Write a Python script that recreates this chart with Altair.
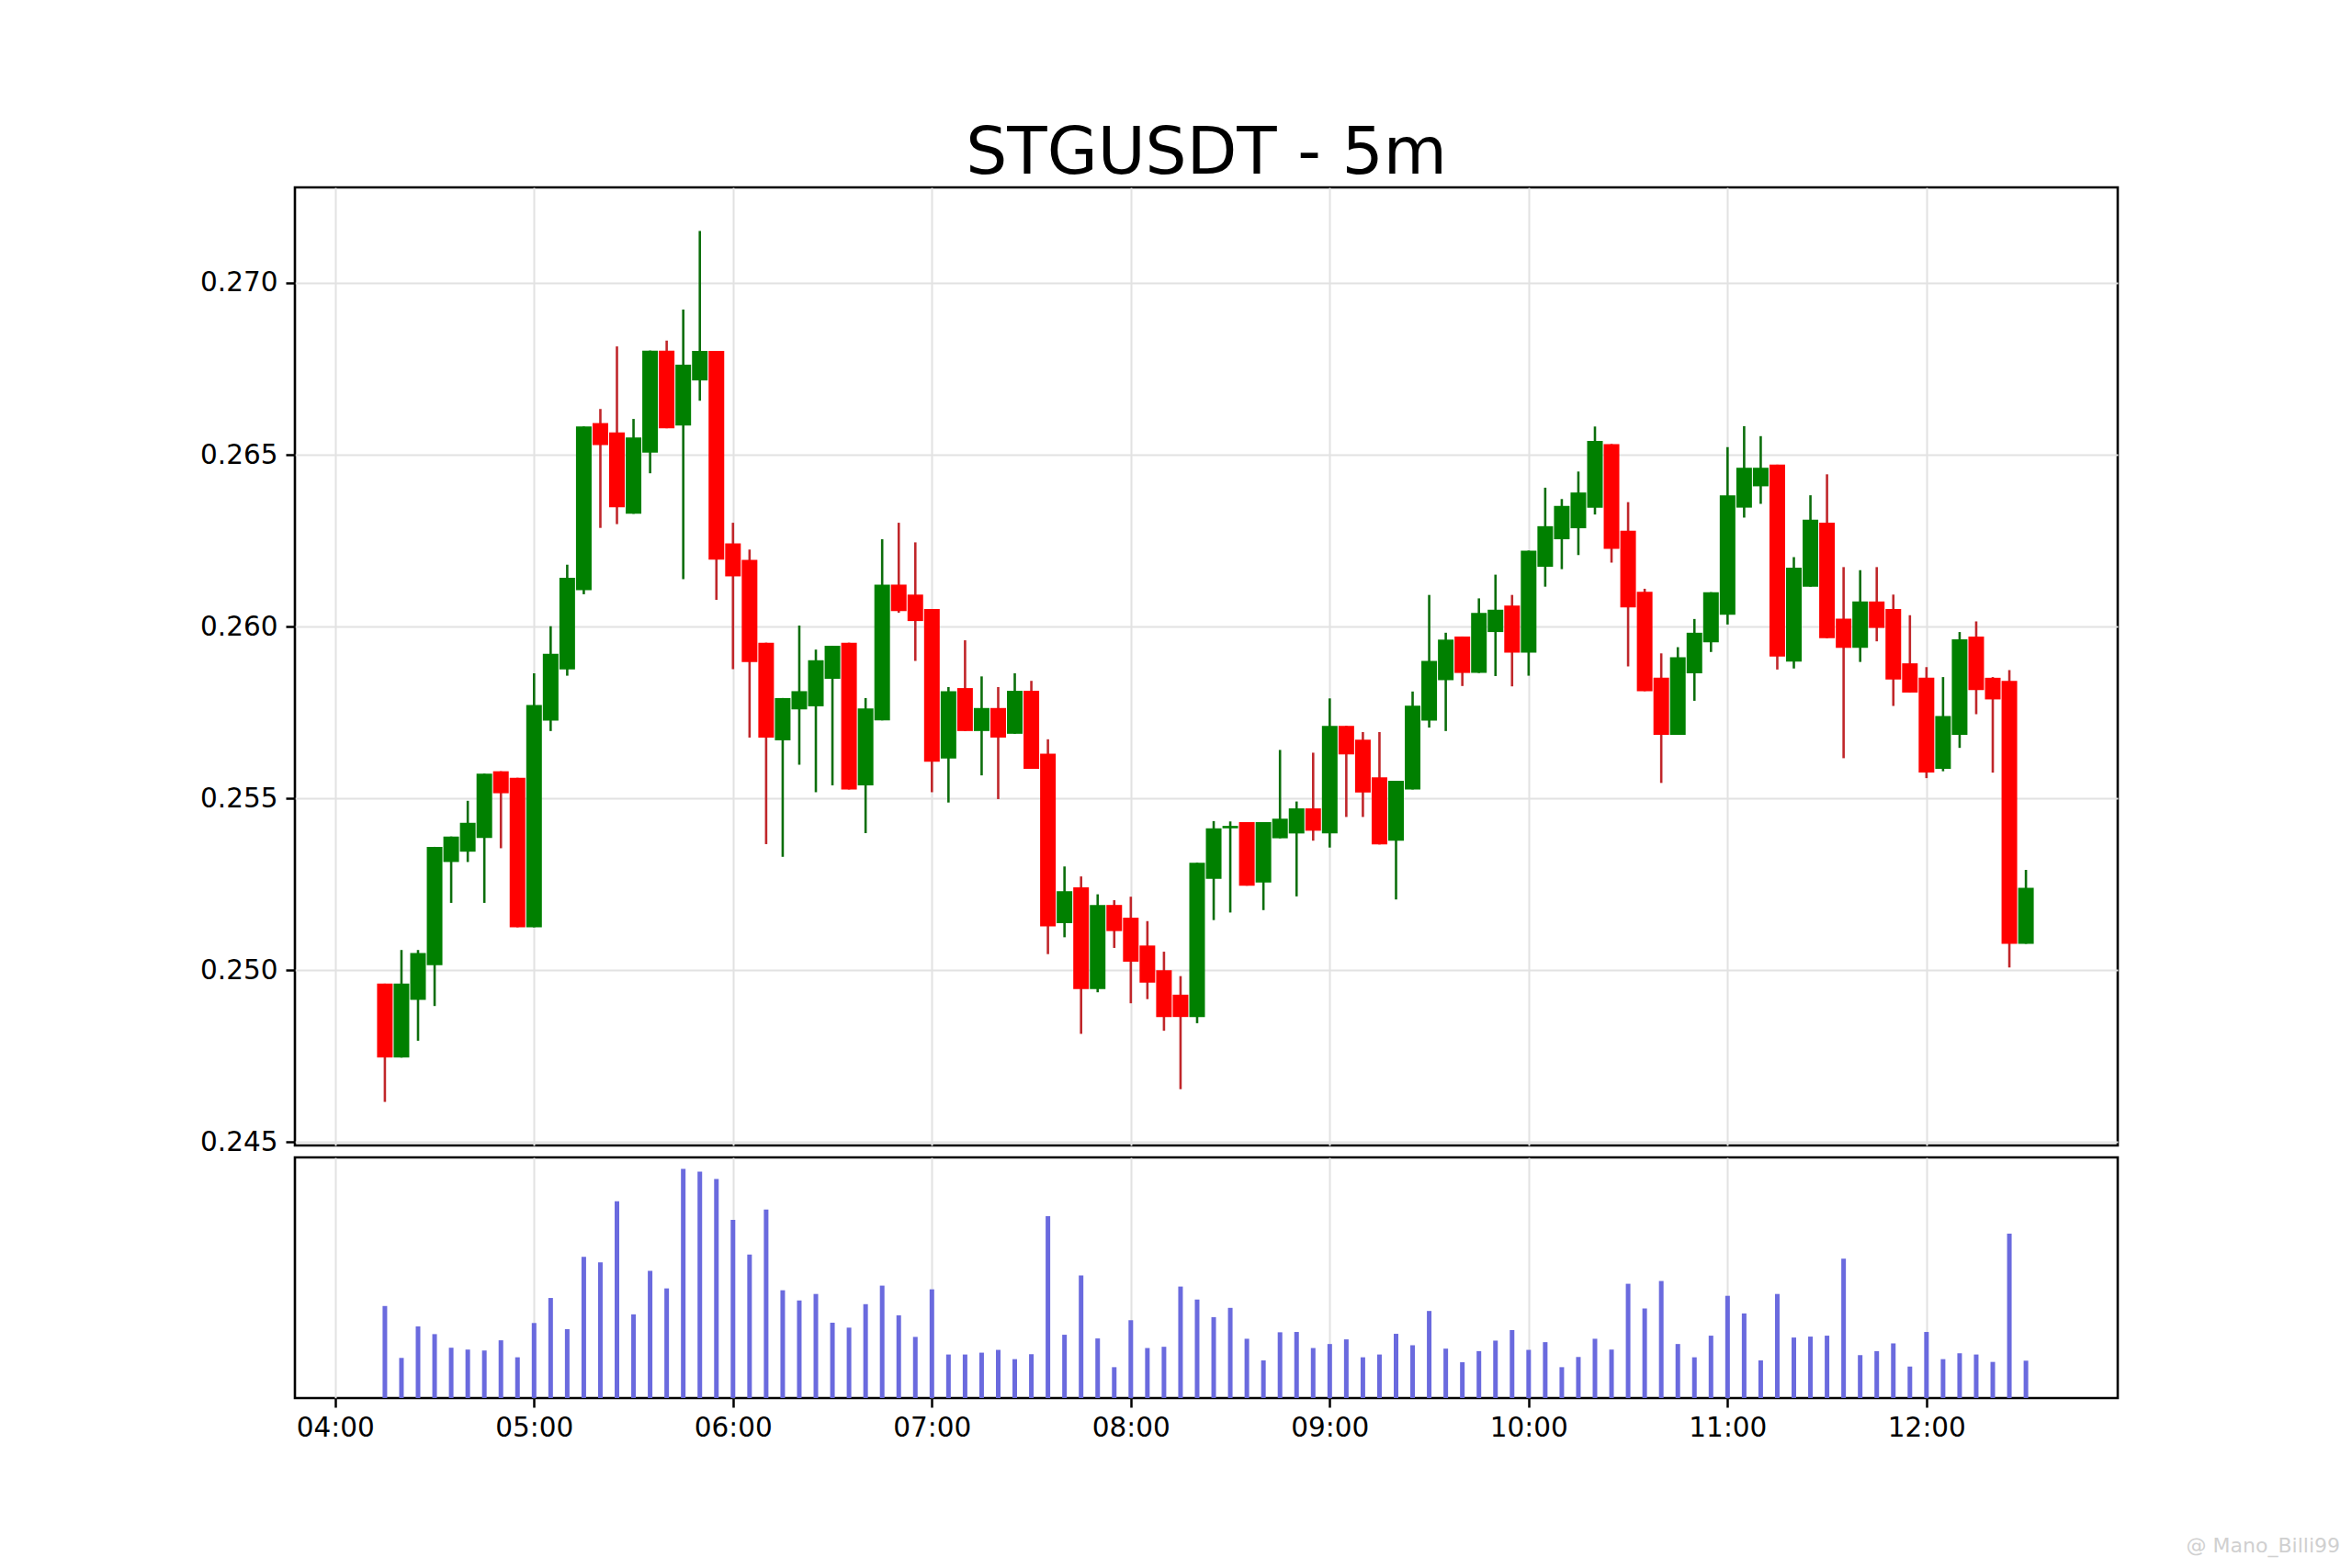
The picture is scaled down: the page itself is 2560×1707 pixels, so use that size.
import altair as alt
import pandas as pd

# ---------------- data ----------------
times = [
    "04:15", "04:20", "04:25", "04:30", "04:35", "04:40", "04:45", "04:50", "04:55",
    "05:00", "05:05", "05:10", "05:15", "05:20", "05:25", "05:30", "05:35", "05:40", "05:45", "05:50", "05:55",
    "06:00", "06:05", "06:10", "06:15", "06:20", "06:25", "06:30", "06:35", "06:40", "06:45", "06:50", "06:55",
    "07:00", "07:05", "07:10", "07:15", "07:20", "07:25", "07:30", "07:35", "07:40", "07:45", "07:50", "07:55",
    "08:00", "08:05", "08:10", "08:15", "08:20", "08:25", "08:30", "08:35", "08:40", "08:45", "08:50", "08:55",
    "09:00", "09:05", "09:10", "09:15", "09:20", "09:25", "09:30", "09:35", "09:40", "09:45", "09:50", "09:55",
    "10:00", "10:05", "10:10", "10:15", "10:20", "10:25", "10:30", "10:35", "10:40", "10:45", "10:50", "10:55",
    "11:00", "11:05", "11:10", "11:15", "11:20", "11:25", "11:30", "11:35", "11:40", "11:45", "11:50", "11:55",
    "12:00", "12:05", "12:10", "12:15", "12:20", "12:25", "12:30",
]

opens = [
    0.24961, 0.24746, 0.24914, 0.25015, 0.25315, 0.25345, 0.25385, 0.25579, 0.25560, 0.25125,
    0.25726, 0.25875, 0.26106, 0.26592, 0.26565, 0.26328, 0.26506, 0.26803, 0.26585, 0.26716,
    0.26802, 0.26242, 0.26194, 0.25953, 0.25669, 0.25759, 0.25768, 0.25848, 0.25953, 0.25538,
    0.25727, 0.26122, 0.26093, 0.26051, 0.25616, 0.25821, 0.25696, 0.25763, 0.25688, 0.25813,
    0.25630, 0.25137, 0.25241, 0.24945, 0.25190, 0.25153, 0.25072, 0.25000, 0.24929, 0.24864,
    0.25266, 0.25413, 0.25431, 0.25255, 0.25384, 0.25398, 0.25471, 0.25398, 0.25711, 0.25671,
    0.25561, 0.25377, 0.25526, 0.25726, 0.25844, 0.25971, 0.25865, 0.25984, 0.26061, 0.25924,
    0.26174, 0.26254, 0.26286, 0.26346, 0.26531, 0.26279, 0.26101, 0.25851, 0.25685, 0.25864,
    0.25954, 0.26034, 0.26346, 0.26408, 0.26471, 0.25898, 0.26116, 0.26302, 0.26023, 0.25938,
    0.26073, 0.26051, 0.25893, 0.25851, 0.25586, 0.25685, 0.25971, 0.25851, 0.25842, 0.25077,
]

highs = [
    0.24961, 0.25059, 0.25059, 0.25359, 0.25389, 0.25493, 0.25572, 0.25579, 0.25560, 0.25864,
    0.26001, 0.26180, 0.26582, 0.26633, 0.26815, 0.26604, 0.26803, 0.26832, 0.26922, 0.27151,
    0.26802, 0.26302, 0.26224, 0.25953, 0.25792, 0.26003, 0.25933, 0.25944, 0.25953, 0.25792,
    0.26254, 0.26302, 0.26245, 0.26051, 0.25824, 0.25960, 0.25855, 0.25824, 0.25864, 0.25842,
    0.25672, 0.25302, 0.25273, 0.25221, 0.25204, 0.25214, 0.25143, 0.25054, 0.24983, 0.25313,
    0.25434, 0.25433, 0.25431, 0.25431, 0.25641, 0.25491, 0.25633, 0.25791, 0.25711, 0.25693,
    0.25693, 0.25551, 0.25811, 0.26092, 0.25982, 0.25971, 0.26082, 0.26151, 0.26092, 0.26221,
    0.26404, 0.26371, 0.26451, 0.26582, 0.26531, 0.26362, 0.26110, 0.25922, 0.25940, 0.26022,
    0.26100, 0.26522, 0.26583, 0.26554, 0.26471, 0.26202, 0.26382, 0.26443, 0.26173, 0.26164,
    0.26173, 0.26093, 0.26033, 0.25882, 0.25853, 0.25984, 0.26015, 0.25853, 0.25873, 0.25292,
]

lows = [
    0.24617, 0.24746, 0.24795, 0.24896, 0.25196, 0.25315, 0.25196, 0.25355, 0.25125, 0.25125,
    0.25696, 0.25857, 0.26094, 0.26287, 0.26298, 0.26328, 0.26446, 0.26577, 0.26138, 0.26657,
    0.26078, 0.25876, 0.25677, 0.25367, 0.25330, 0.25598, 0.25518, 0.25538, 0.25526, 0.25399,
    0.25727, 0.26040, 0.25900, 0.25518, 0.25488, 0.25696, 0.25567, 0.25498, 0.25688, 0.25586,
    0.25047, 0.25096, 0.24815, 0.24936, 0.25065, 0.24904, 0.24916, 0.24824, 0.24654, 0.24846,
    0.25146, 0.25168, 0.25246, 0.25175, 0.25384, 0.25215, 0.25377, 0.25357, 0.25446, 0.25446,
    0.25366, 0.25206, 0.25526, 0.25706, 0.25696, 0.25827, 0.25865, 0.25856, 0.25826, 0.25857,
    0.26116, 0.26167, 0.26208, 0.26326, 0.26186, 0.25884, 0.25812, 0.25545, 0.25685, 0.25784,
    0.25926, 0.26006, 0.26317, 0.26357, 0.25875, 0.25878, 0.26116, 0.25966, 0.25617, 0.25897,
    0.25957, 0.25769, 0.25808, 0.25559, 0.25579, 0.25647, 0.25745, 0.25575, 0.25008, 0.25077,
]

closes = [
    0.24746, 0.24961, 0.25050, 0.25359, 0.25389, 0.25429, 0.25572, 0.25515, 0.25125, 0.25772,
    0.25921, 0.26142, 0.26582, 0.26528, 0.26347, 0.26550, 0.26803, 0.26577, 0.26762, 0.26802,
    0.26195, 0.26146, 0.25897, 0.25677, 0.25792, 0.25812, 0.25902, 0.25944, 0.25526, 0.25762,
    0.26122, 0.26045, 0.26016, 0.25607, 0.25812, 0.25696, 0.25763, 0.25677, 0.25813, 0.25586,
    0.25128, 0.25230, 0.24945, 0.25190, 0.25114, 0.25025, 0.24964, 0.24864, 0.24864, 0.25313,
    0.25413, 0.25420, 0.25246, 0.25431, 0.25441, 0.25471, 0.25406, 0.25711, 0.25628, 0.25517,
    0.25366, 0.25551, 0.25770, 0.25900, 0.25962, 0.25865, 0.26040, 0.26049, 0.25924, 0.26221,
    0.26292, 0.26351, 0.26390, 0.26540, 0.26226, 0.26056, 0.25812, 0.25685, 0.25911, 0.25982,
    0.26100, 0.26382, 0.26462, 0.26462, 0.25913, 0.26171, 0.26311, 0.25966, 0.25938, 0.26073,
    0.25996, 0.25846, 0.25808, 0.25575, 0.25740, 0.25963, 0.25815, 0.25788, 0.25077, 0.25240,
]

volumes = [
    298, 130, 232, 207, 163, 157, 154, 187, 132, 243,
    324, 223, 457, 439, 637, 271, 412, 355, 742, 733,
    709, 577, 465, 610, 349, 316, 337, 244, 228, 304,
    364, 268, 198, 352, 141, 141, 147, 156, 126, 142,
    589, 205, 397, 193, 100, 252, 162, 166, 361, 319,
    262, 292, 192, 122, 213, 214, 162, 175, 190, 132,
    141, 208, 171, 282, 160, 116, 152, 186, 220, 156,
    181, 100, 133, 192, 157, 370, 290, 379, 175, 132,
    202, 331, 274, 122, 337, 196, 199, 202, 451, 139,
    152, 177, 102, 214, 126, 145, 141, 117, 532, 121,
]

hour_ticks = ["04:00", "05:00", "06:00", "07:00", "08:00", "09:00", "10:00", "11:00", "12:00"]
price_ticks = [0.245, 0.250, 0.255, 0.260, 0.265, 0.270]
title_text = "STGUSDT - 5m"
watermark = "@ Mano_Billi99"

# ---------------- build table ----------------
def to_minutes(s):
    h, m = s.split(":")
    return int(h) * 60 + int(m)

df = pd.DataFrame({
    "time": times,
    "t": [to_minutes(s) for s in times],
    "open": opens,
    "high": highs,
    "low": lows,
    "close": closes,
    "volume": volumes,
})
df["dir"] = ["up" if c >= o else "down" for o, c in zip(opens, closes)]

FONT = "DejaVu Sans"
W = 1984
H_PRICE = 1043
H_VOL = 262
GRID = "#e2e2e2"
LABEL_SIZE = 29.5

x_domain = [229.25, 776.3]
xscale = alt.Scale(domain=x_domain, nice=False, zero=False)
tick_vals = [to_minutes(s) for s in hour_ticks]
label_expr = "(floor(datum.value/60) < 10 ? '0' : '') + floor(datum.value/60) + ':00'"

price_lo = min(lows) - 0.05 * (max(highs) - min(lows))
price_hi = max(highs) + 0.05 * (max(highs) - min(lows))

x_price = alt.X(
    "t:Q", scale=xscale,
    axis=alt.Axis(values=tick_vals, labels=False, ticks=False, domain=False,
                  grid=True, gridColor=GRID, gridWidth=2, title=None),
)

y_axis = alt.Axis(values=price_ticks, format=".3f", tickSize=10, tickWidth=2.5,
                  tickColor="black", labelFontSize=LABEL_SIZE, labelPadding=9,
                  labelColor="black", labelFont=FONT, grid=True, gridColor=GRID,
                  gridWidth=2, domain=False, title=None)
yscale = alt.Scale(domain=[price_lo, price_hi], nice=False, zero=False)

base = alt.Chart(df)

wicks = base.mark_rule(strokeWidth=2.6).encode(
    x=x_price,
    y=alt.Y("low:Q", scale=yscale, axis=y_axis),
    y2="high:Q",
    color=alt.Color("dir:N", scale=alt.Scale(domain=["up", "down"], range=["#0c6e0c", "#c0262a"]), legend=None),
)

bodies = base.mark_bar(size=17).encode(
    x=alt.X("t:Q", scale=xscale),
    y=alt.Y("open:Q", scale=yscale),
    y2="close:Q",
    color=alt.Color("dir:N", scale=alt.Scale(domain=["up", "down"], range=["#008000", "#ff0000"]), legend=None),
)

price = alt.layer(wicks, bodies).resolve_scale(color="independent").properties(
    width=W, height=H_PRICE,
    title=alt.TitleParams(title_text, fontSize=71, font=FONT, fontWeight="normal",
                          anchor="middle", frame="group", offset=-56,
                          baseline="alphabetic", color="black"),
)

vol_bars = alt.Chart(df).mark_bar(size=5, color="#6a6ade").encode(
    x=alt.X("t:Q", scale=xscale,
            axis=alt.Axis(values=tick_vals, labelExpr=label_expr, tickSize=10, tickWidth=2.5,
                          tickColor="black", labelFontSize=LABEL_SIZE, labelPadding=8,
                          labelColor="black", labelFont=FONT, grid=True, gridColor=GRID,
                          gridWidth=2, domain=False, title=None)),
    y=alt.Y("volume:Q", scale=alt.Scale(domain=[0, max(volumes) * 1.05], nice=False), axis=None),
)

wm = alt.Chart(pd.DataFrame({"txt": [watermark]})).mark_text(
    align="right", baseline="middle", fontSize=22, font=FONT, color="#d0d0d0"
).encode(x=alt.value(2226), y=alt.value(1683 - 1260), text="txt:N")

volume = alt.layer(vol_bars, wm).properties(width=W, height=H_VOL)

chart = alt.vconcat(price, volume, spacing=-3).properties(
    padding={"left": 208, "top": 122, "right": 0, "bottom": 0},
    background="white",
).configure_view(stroke="black", strokeWidth=2.6).configure_axis(labelFont=FONT)

chart.save("out.html", embed_options={"renderer": "svg", "actions": False})
